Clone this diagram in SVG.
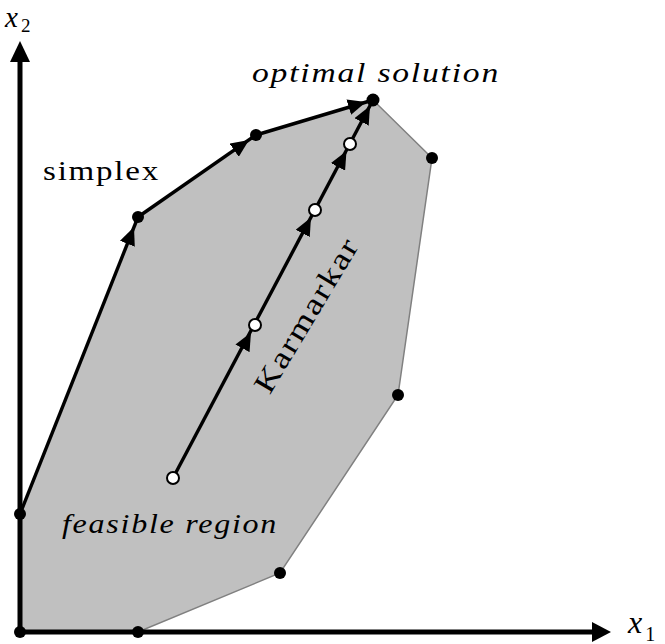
<svg xmlns="http://www.w3.org/2000/svg" width="665" height="644" viewBox="0 0 665 644">
<style>
.lbl{font-family:"Liberation Serif","Times New Roman",serif;fill:#000}
.it{font-style:italic}
.dot{fill:#000}
.open{fill:#fff;stroke:#000;stroke-width:2}
.path{stroke:#000;stroke-width:3.4;fill:none}
</style>
<defs>
<marker id="tri" viewBox="0 0 18 16" refX="18" refY="8" markerWidth="18" markerHeight="16" orient="auto" markerUnits="userSpaceOnUse">
<path d="M0,0 L18,8 L0,16 Z" fill="#000"/>
</marker>
</defs>
<g id="region">
<polygon points="20,632 138,632 280,573 398,395 432,158 373,100 256,135 138,217 20,514" fill="#c0c0c0" stroke="#808080" stroke-width="1.5"/>
</g>
<g id="axes">
<line x1="20" y1="632" x2="20" y2="60" stroke="#000" stroke-width="5"/>
<polygon points="20,41 10,62 30,62" fill="#000"/>
<line x1="20" y1="632" x2="594" y2="632" stroke="#000" stroke-width="5"/>
<polygon points="611,632 592,622 592,642" fill="#000"/>
</g>
<g id="connectors">
<g class="simplex">
<line class="path" x1="20" y1="514" x2="138" y2="217"/>
<line class="path" x1="138" y1="217" x2="256" y2="135"/>
<line class="path" x1="256" y1="135" x2="373" y2="100"/>
<line x1="20" y1="514" x2="134" y2="227" stroke="none" marker-end="url(#tri)"/>
<line x1="138" y1="217" x2="249" y2="140" stroke="none" marker-end="url(#tri)"/>
<line x1="256" y1="135" x2="366" y2="102" stroke="none" marker-end="url(#tri)"/>
</g>
<g class="karmarkar">
<line class="path" x1="173" y1="478" x2="373" y2="100"/>
<line x1="173" y1="478" x2="251" y2="332.5" stroke="none" marker-end="url(#tri)"/>
<line x1="255" y1="325" x2="311" y2="217.5" stroke="none" marker-end="url(#tri)"/>
<line x1="315" y1="210" x2="346.5" y2="151" stroke="none" marker-end="url(#tri)"/>
<line x1="350" y1="144" x2="370" y2="106" stroke="none" marker-end="url(#tri)"/>
</g>
</g>
<g id="vertices">
<circle class="dot" cx="20" cy="632" r="6"/>
<circle class="dot" cx="138" cy="632" r="6"/>
<circle class="dot" cx="280" cy="573" r="6"/>
<circle class="dot" cx="398" cy="395" r="6"/>
<circle class="dot" cx="432" cy="158" r="6"/>
<circle class="dot" cx="373" cy="100" r="6.5"/>
<circle class="dot" cx="256" cy="135" r="6"/>
<circle class="dot" cx="138" cy="217" r="6"/>
<circle class="dot" cx="20" cy="514" r="6"/>
</g>
<g id="interior">
<circle class="open" cx="173" cy="478" r="6"/>
<circle class="open" cx="255" cy="325" r="6"/>
<circle class="open" cx="315" cy="210" r="6"/>
<circle class="open" cx="350" cy="144" r="6"/>
</g>
<g id="labels">
<text class="lbl it" x="252" y="82" font-size="28" textLength="248" lengthAdjust="spacingAndGlyphs" letter-spacing="1.5">optimal solution</text>
<text class="lbl" x="43" y="180" font-size="28" textLength="117" lengthAdjust="spacingAndGlyphs" letter-spacing="1.5">simplex</text>
<text class="lbl it" x="62" y="533" font-size="28" textLength="216" lengthAdjust="spacingAndGlyphs" letter-spacing="1.5">feasible region</text>
<text class="lbl" font-size="30" text-anchor="middle" textLength="176" lengthAdjust="spacingAndGlyphs" letter-spacing="1.5" transform="translate(315,320) rotate(-59)">Karmarkar</text>
<text class="lbl it" x="5" y="27" font-size="29">x<tspan font-style="normal" font-size="19" dx="3" dy="5">2</tspan></text>
<text class="lbl it" x="628" y="633" font-size="32">x<tspan font-style="normal" font-size="20" dx="3" dy="8">1</tspan></text>
</g>
</svg>
